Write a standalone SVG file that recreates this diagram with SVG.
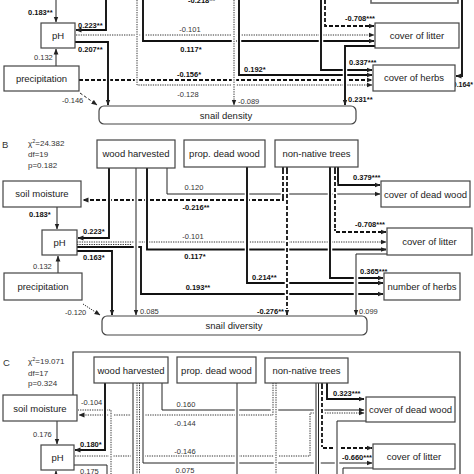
<svg xmlns="http://www.w3.org/2000/svg" width="474" height="474" viewBox="0 0 474 474">
<defs>
<marker id="a" markerUnits="userSpaceOnUse" markerWidth="6" markerHeight="6" viewBox="0 0 6 6" refX="5.5" refY="3" orient="auto"><path d="M0,0.6 L6,3 L0,5.4 z" fill="#222"/></marker>
<style>
.box{fill:#fff;stroke:#444;stroke-width:1.2}
.t{font-family:"Liberation Sans",Arial,sans-serif;font-size:9.5px;fill:#222;text-anchor:middle}
.l{font-family:"Liberation Sans",Arial,sans-serif;font-size:7.5px;fill:#333}
.st{font-family:"Liberation Sans",Arial,sans-serif;font-size:8px;fill:#333}
.b{font-weight:bold;fill:#111}
.m{text-anchor:middle}
.e{text-anchor:end}
.s{fill:none;stroke:#222;stroke-width:1}
.S{fill:none;stroke:#111;stroke-width:1.9}
.D{fill:none;stroke:#111;stroke-width:1.8;stroke-dasharray:4,2}
.d{fill:none;stroke:#222;stroke-width:1;stroke-dasharray:3,2}
.o{fill:none;stroke:#333;stroke-width:1;stroke-dasharray:1.3,1.1}
.ar{marker-end:url(#a)}
.h{fill:none;stroke:#fff;stroke-width:4.5}
</style>
</defs>
<rect width="474" height="474" fill="#fff"/>

<!-- ================= PANEL A ================= -->
<g id="connectors-A">
<path class="s ar" d="M56,0 V22"/>
<path class="S ar" d="M106,0 V30 H76"/>
<path class="o ar" d="M76,35 H374"/>
<path class="S ar" d="M75,42 H108 V105"/>
<path class="s ar" d="M56,66 V49"/>
<path class="D ar" d="M79,80 H372"/>
<path class="d ar" d="M80,93 L97,105"/>
<path class="o ar" d="M137,0 V85 H372"/>
<path class="S ar" d="M143,0 V41 H374"/>
<path class="o ar" d="M234,0 V105"/>
<path class="S ar" d="M239,0 V75 H372"/>
<path class="S ar" d="M321,0 V70 H372"/>
<path class="D ar" d="M325,0 V26 H374"/>
<path class="S ar" d="M375,46 H345 V105"/>
<path class="S ar" d="M462,0 V76 H456"/>
<g id="gaps-A">
<path class="h" d="M108,46 V100 M137,0 V82 M143,0 V38 M234,0 V99 M239,0 V72 M321,0 V67 M325,0 V23 M345,49 V99"/>
</g>
<path class="S" d="M108,46 V100"/>
<path class="o" d="M137,0 V82"/>
<path class="S" d="M143,0 V38"/>
<path class="o" d="M234,0 V99"/>
<path class="S" d="M239,0 V72"/>
<path class="S" d="M321,0 V67"/>
<path class="D" d="M325,0 V23"/>
<path class="S" d="M345,49 V99"/>
</g>
<g id="labels-A">
<text class="l b" x="188" y="3">-0.218**</text>
<text class="l b" x="28" y="15">0.183**</text>
<text class="l b" x="78" y="27.5">0.223**</text>
<text class="l m" x="190" y="32">-0.101</text>
<text class="l b" x="78" y="52">0.207**</text>
<text class="l m b" x="191" y="51.5">0.117*</text>
<text class="l" x="34" y="60">0.132</text>
<text class="l m b" x="189" y="77">-0.156*</text>
<text class="l m" x="188" y="97">-0.128</text>
<text class="l" x="62" y="103">-0.146</text>
<text class="l" x="238" y="104">-0.089</text>
<text class="l b" x="244" y="72">0.192*</text>
<text class="l b" x="345" y="21">-0.708***</text>
<text class="l b" x="349" y="65">0.337***</text>
<text class="l b" x="348" y="102">0.231**</text>
<text class="l b e" x="473" y="87" style="font-size:7px">0.164*</text>
</g>
<g id="A-cover-dead-wood"><rect class="box" x="371" y="-25" width="87" height="28" style="stroke:#666;stroke-width:1.6"/></g>
<g id="A-pH"><rect class="box" x="41" y="23" width="34" height="25"/><text class="t" x="58" y="39">pH</text></g>
<g id="A-precipitation"><rect class="box" x="4" y="66" width="75" height="25"/><text class="t" x="41.5" y="82">precipitation</text></g>
<g id="A-cover-litter"><rect class="box" x="375" y="23" width="84" height="25"/><text class="t" x="417" y="39">cover of litter</text></g>
<g id="A-cover-herbs"><rect class="box" x="373" y="65" width="82" height="26"/><text class="t" x="414" y="81">cover of herbs</text></g>
<g id="A-snail-density"><rect class="box" x="99" y="106" width="257" height="18" rx="5"/><text class="t" x="226" y="119">snail density</text></g>

<!-- ================= PANEL B ================= -->
<g id="stats-B">
<text class="st" x="2" y="148" style="font-size:9.5px">B</text>
<text class="st" x="28" y="146">χ<tspan dy="-3" style="font-size:5.5px">2</tspan><tspan dy="3">=24.382</tspan></text>
<text class="st" x="28" y="157">df=19</text>
<text class="st" x="28" y="168">p=0.182</text>
</g>
<g id="connectors-B">
<path class="s ar" d="M57,207 V229"/>
<path class="S ar" d="M109,168 V238 H78"/>
<path class="o ar" d="M77,242 H386"/>
<path class="o" d="M77,244.5 H132"/>
<path class="S ar" d="M77,247 H141 V294 H383"/>
<path class="S ar" d="M147,168 V249.5 H386"/>
<path class="S ar" d="M77,251 H112 V315"/>
<path class="s ar" d="M136,168 V315"/>
<path class="s ar" d="M58,273 V256"/>
<path class="o ar" d="M83,304 L100,315"/>
<path class="s ar" d="M167,168 V194 H380"/>
<path class="D ar" d="M283,167 V200 H83"/>
<path class="S ar" d="M338,167 V185 H380"/>
<path class="D ar" d="M335,167 V232 H386"/>
<path class="S ar" d="M247,167 V283 H383"/>
<path class="S ar" d="M330,167 V278 H383"/>
<path class="D ar" d="M287,167 V315"/>
<path class="s ar" d="M387,254 H356 V315"/>
<g id="gaps-B">
<path class="h" d="M109,170 V235 M136,170 V309 M141,250 V291 M147,170 V246 M112,254 V309 M167,170 V191 M283,170 V197 M287,170 V309 M247,170 V280 M330,170 V275 M335,170 V229 M338,170 V182 M356,257 V309"/>
</g>
<path class="S" d="M109,170 V235"/>
<path class="s" d="M136,170 V309"/>
<path class="S" d="M141,250 V291"/>
<path class="S" d="M147,170 V246"/>
<path class="S" d="M112,254 V309"/>
<path class="s" d="M167,170 V191"/>
<path class="D" d="M283,170 V197"/>
<path class="D" d="M287,170 V309"/>
<path class="S" d="M247,170 V280"/>
<path class="S" d="M330,170 V275"/>
<path class="D" d="M335,170 V229"/>
<path class="S" d="M338,170 V182"/>
<path class="s" d="M356,257 V309"/>
</g>
<g id="labels-B">
<text class="l b" x="29" y="217">0.183*</text>
<text class="l b" x="83" y="234">0.223*</text>
<text class="l m" x="193" y="239">-0.101</text>
<text class="l m b" x="195" y="259">0.117*</text>
<text class="l b" x="83" y="260">0.163*</text>
<text class="l" x="33" y="269">0.132</text>
<text class="l" x="65" y="315">-0.120</text>
<text class="l" x="140" y="314">0.085</text>
<text class="l m b" x="198" y="290">0.193**</text>
<text class="l m" x="194" y="190">0.120</text>
<text class="l m b" x="196" y="210">-0.216**</text>
<text class="l b" x="353" y="180">0.379***</text>
<text class="l b" x="355" y="227">-0.708***</text>
<text class="l b" x="252" y="280">0.214**</text>
<text class="l b" x="360" y="274">0.365***</text>
<text class="l b e" x="284" y="314">-0.276**</text>
<text class="l" x="359" y="314">0.099</text>
</g>
<g id="B-wood-harvested"><rect class="box" x="97" y="140" width="78" height="28"/><text class="t" x="136" y="157">wood harvested</text></g>
<g id="B-prop-dead-wood"><rect class="box" x="184" y="140" width="81" height="27"/><text class="t" x="224.5" y="157">prop. dead wood</text></g>
<g id="B-non-native-trees"><rect class="box" x="275" y="140" width="83" height="27"/><text class="t" x="316.5" y="157">non-native trees</text></g>
<g id="B-soil-moisture"><rect class="box" x="3" y="181" width="78" height="26"/><text class="t" x="42" y="197">soil moisture</text></g>
<g id="B-cover-dead-wood"><rect class="box" x="381" y="181" width="89" height="26"/><text class="t" x="425.5" y="197.5">cover of dead wood</text></g>
<g id="B-cover-litter"><rect class="box" x="387" y="228" width="85" height="27"/><text class="t" x="429.5" y="244.5">cover of litter</text></g>
<g id="B-number-herbs"><rect class="box" x="384" y="273" width="76" height="27"/><text class="t" x="422" y="290">number of herbs</text></g>
<g id="B-pH"><rect class="box" x="42" y="230" width="35" height="25"/><text class="t" x="59.5" y="246">pH</text></g>
<g id="B-precipitation"><rect class="box" x="4" y="273" width="78" height="27"/><text class="t" x="43" y="290">precipitation</text></g>
<g id="B-snail-diversity"><rect class="box" x="102" y="316" width="265" height="19" rx="5"/><text class="t" x="234" y="329">snail diversity</text></g>

<!-- ================= PANEL C ================= -->
<g id="stats-C">
<text class="st" x="3" y="366" style="font-size:9.5px">C</text>
<text class="st" x="28" y="364">χ<tspan dy="-3" style="font-size:5.5px">2</tspan><tspan dy="3">=19.071</tspan></text>
<text class="st" x="28" y="376">df=17</text>
<text class="st" x="28" y="386">p=0.324</text>
</g>
<g id="connectors-C">
<path class="s" d="M73,395 V352 H460 V474" style="stroke:#333;stroke-width:1.2"/>
<path class="s ar" d="M57,421 V444"/>
<path class="o" d="M111,474 V410 H78"/>
<path class="o ar" d="M273,383 V415 H79"/>
<path class="s ar" d="M162,383 V410 H364"/>
<path class="S ar" d="M327,383 V399 H364"/>
<path class="o ar" d="M75,456 H310 V413 H364"/>
<path class="s ar" d="M143,383 V463 H372"/>
<path class="D ar" d="M322,383 V448 H372"/>
<path class="S ar" d="M105,383 V450 H75"/>
<path class="s" d="M74,465 H107 V474"/>
<path class="s ar" d="M56,480 V471"/>
<path class="s" d="M133,383 V474"/>
<path class="o" d="M137,383 V474"/>
<path class="o" d="M139.5,383 V474"/>
<path class="s" d="M237,383 V474"/>
<path class="o" d="M276,383 V474"/>
<path class="s" d="M316,383 V474"/>
<path class="s" d="M318.5,383 V474"/>
<path class="s" d="M366,421 H337 V474"/>
<path class="s" d="M373,468 H343 V474"/>
<g id="gaps-C">
<path class="h" d="M105,385 V447 M111,413 V474 M133,385 V474 M137,385 V474 M139.5,385 V474 M143,385 V460 M162,385 V407 M237,385 V474 M273,385 V412 M276,385 V474 M310,416 V453 M316,385 V474 M318.5,385 V474 M322,385 V445 M327,385 V396 M337,424 V474"/>
</g>
<path class="S" d="M105,385 V447"/>
<path class="o" d="M111,413 V474"/>
<path class="s" d="M133,385 V474"/>
<path class="o" d="M137,385 V474"/>
<path class="o" d="M139.5,385 V474"/>
<path class="s" d="M143,385 V460"/>
<path class="s" d="M162,385 V407"/>
<path class="s" d="M237,385 V474"/>
<path class="o" d="M273,385 V412"/>
<path class="o" d="M276,385 V474"/>
<path class="o" d="M310,416 V453"/>
<path class="s" d="M316,385 V474"/>
<path class="s" d="M318.5,385 V474"/>
<path class="D" d="M322,385 V445"/>
<path class="S" d="M327,385 V396"/>
<path class="s" d="M337,424 V474"/>
</g>
<g id="labels-C">
<text class="l" x="33" y="437">0.176</text>
<text class="l" x="81" y="405">-0.104</text>
<text class="l m" x="185" y="426">-0.144</text>
<text class="l m" x="186" y="407">0.160</text>
<text class="l b" x="333" y="396">0.323***</text>
<text class="l m" x="185" y="454">-0.146</text>
<text class="l m" x="185" y="473">0.075</text>
<text class="l b" x="342" y="460">-0.660***</text>
<text class="l b" x="80" y="447">0.180*</text>
<text class="l" x="80" y="473.5">0.175</text>
</g>
<g id="C-wood-harvested"><rect class="box" x="94" y="357" width="74" height="26"/><text class="t" x="131" y="374">wood harvested</text></g>
<g id="C-prop-dead-wood"><rect class="box" x="177" y="357" width="79" height="26"/><text class="t" x="216.5" y="374">prop. dead wood</text></g>
<g id="C-non-native-trees"><rect class="box" x="265" y="358" width="83" height="25"/><text class="t" x="306.5" y="374">non-native trees</text></g>
<g id="C-soil-moisture"><rect class="box" x="3" y="395" width="74" height="26"/><text class="t" x="40" y="412">soil moisture</text></g>
<g id="C-cover-dead-wood"><rect class="box" x="366" y="397" width="89" height="25"/><text class="t" x="410.5" y="413">cover of dead wood</text></g>
<g id="C-cover-litter"><rect class="box" x="373" y="444" width="82" height="25"/><text class="t" x="414" y="460">cover of litter</text></g>
<g id="C-pH"><rect class="box" x="41" y="445" width="33" height="25"/><text class="t" x="57.5" y="461">pH</text></g>
</svg>
